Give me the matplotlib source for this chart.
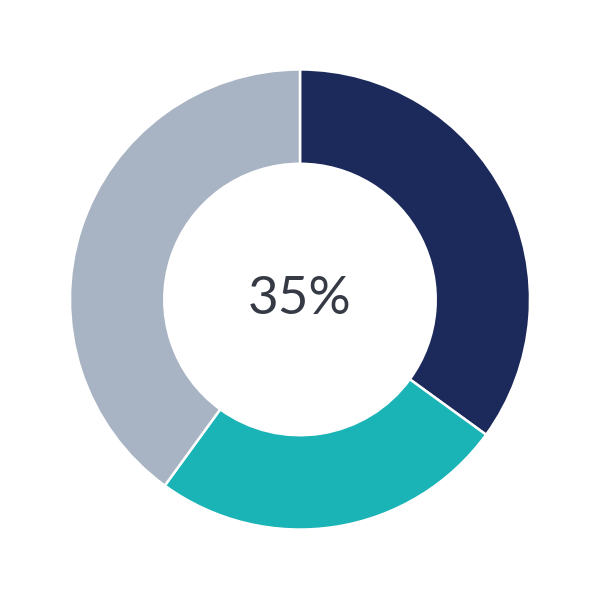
import matplotlib.pyplot as plt

labels = ['A', 'B', 'C']
values = [35, 25, 40]
colors = ['#1b2a5a', '#1ab3b6', '#a8b3c3']
center_text = '35%'

fig = plt.figure(figsize=(6, 5.99), dpi=100)
ax = fig.add_axes([0, 0, 1, 1])
ax.pie(values, colors=colors, startangle=90, counterclock=False,
       radius=1.0, wedgeprops=dict(width=0.41, edgecolor='white', linewidth=1.8))
ax.text(0, 0, center_text, ha='center', va='center', fontsize=38,
        family=['Lato', 'DejaVu Sans'], fontweight='normal', color='#353a45')
ax.set_xlim(-1.304, 1.304)
ax.set_ylim(-1.302, 1.302)
ax.set_aspect('equal')
ax.axis('off')
fig.savefig('out.png', dpi=100, facecolor='white')
